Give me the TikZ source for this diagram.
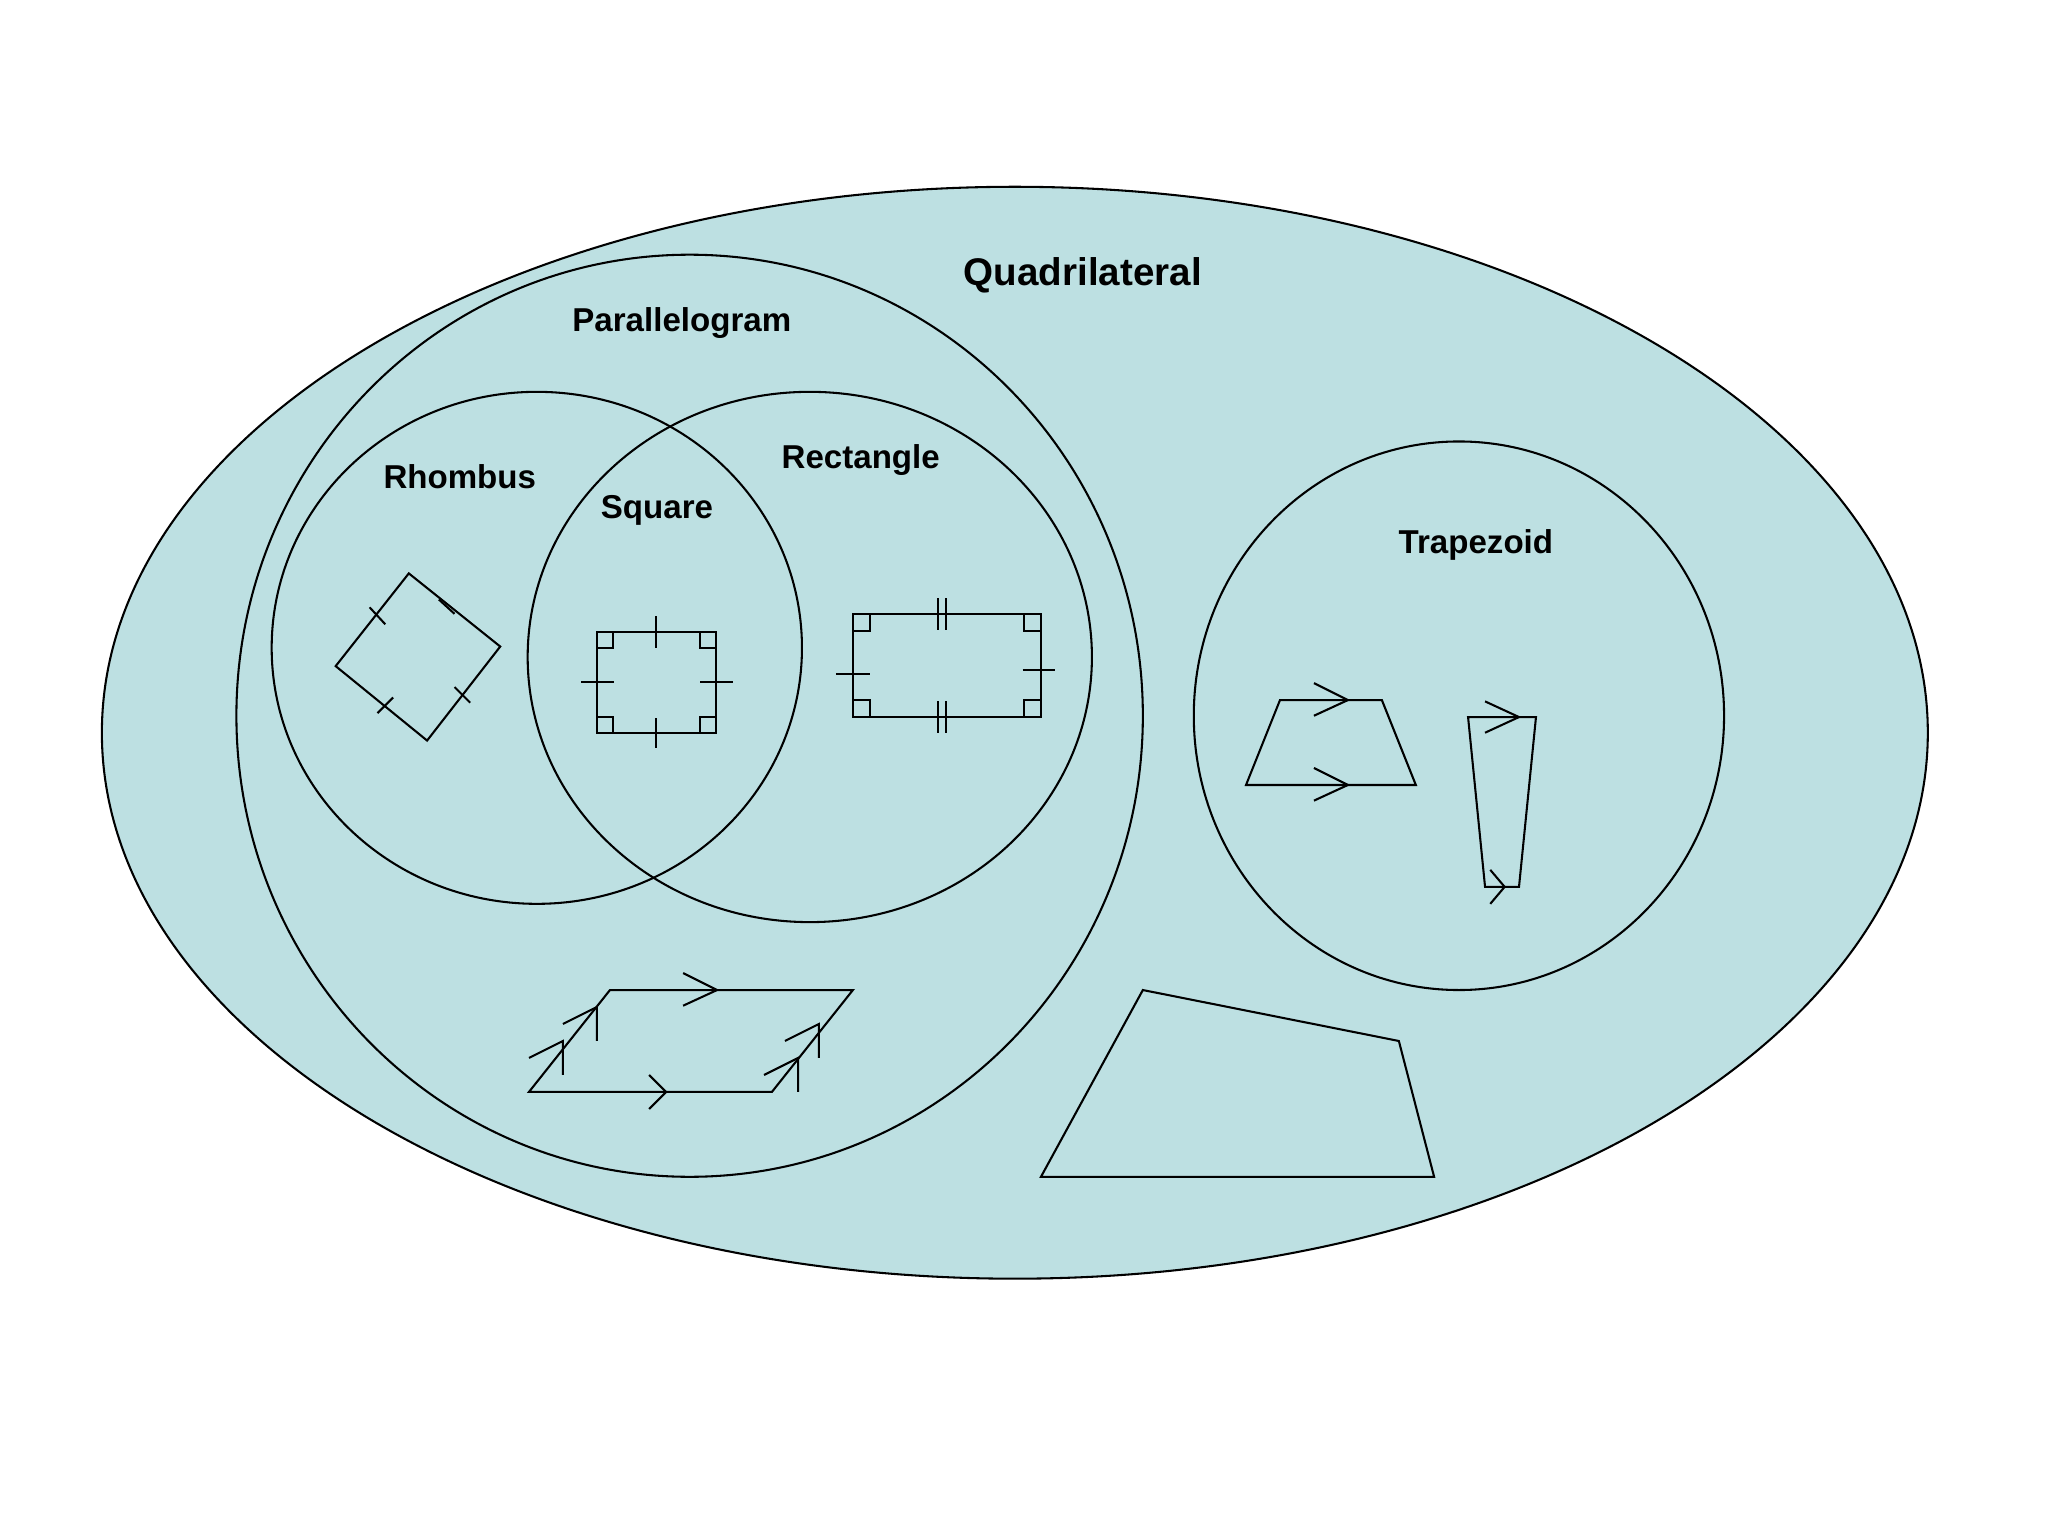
\documentclass[tikz,border=0pt]{standalone}
\usepackage{fontspec}
\setmainfont{Liberation Sans}
\definecolor{teal}{RGB}{189,224,226}
\begin{document}
\begin{tikzpicture}[x=0.01cm,y=-0.01cm,line width=0.45pt,
 lbl/.style={font=\bfseries\fontsize{7.2}{8}\selectfont},
 shp/.style={draw,line join=miter}]
\useasboundingbox (0,0) rectangle (1568,1176);
\fill[white] (0,0) rectangle (1568,1176);
\draw[fill=teal] (777,561) ellipse [x radius=699, y radius=418];
\draw (528,548) ellipse [x radius=347, y radius=353];
\draw (411,496) ellipse [x radius=203, y radius=196];
\draw (620,503) ellipse [x radius=216, y radius=203];
\draw (1117,548) ellipse [x radius=203, y radius=210];
\node[lbl,font=\bfseries\fontsize{8.4}{9}\selectfont] (q) at (829,211) {Quadrilateral};
\node[lbl] (p) at (522,247) {Parallelogram};
\node[lbl] (rh) at (352,365) {Rhombus};
\node[lbl] (sq) at (503,391) {Square};
\node[lbl] (re) at (659,352) {Rectangle};
\node[lbl] (tr) at (1130,417) {Trapezoid};
% rhombus
\draw[shp] (313,439)--(383,495)--(327,567)--(257,510)--cycle;
\draw (283,465)--(295,478) (336,459)--(348,470) (348,526)--(360,538) (289,546)--(301,534);
% square
\draw[shp] (457,484) rectangle (548,561);
\draw (502,472)--(502,496) (502,550)--(502,573) (445,522)--(470,522) (536,522)--(561,522);
\draw (457,496)--(469,496)--(469,484) (536,484)--(536,496)--(548,496) (457,549)--(469,549)--(469,561) (536,561)--(536,549)--(548,549);
% rectangle
\draw[shp] (653,470) rectangle (797,549);
\draw (718,458)--(718,482) (724,458)--(724,482) (718,537)--(718,561) (724,537)--(724,561) (640,516)--(666,516) (783,513)--(808,513);
\draw (653,483)--(666,483)--(666,470) (784,470)--(784,483)--(797,483) (653,536)--(666,536)--(666,549) (784,549)--(784,536)--(797,536);
% trapezoids
\draw[shp] (980,536)--(1058,536)--(1084,601)--(954,601)--cycle;
\draw (1006,523)--(1032,536)--(1006,548) (1006,588)--(1032,601)--(1006,613);
\draw[shp] (1124,549)--(1176,549)--(1163,679)--(1137,679)--cycle;
\draw (1137,537)--(1163,549)--(1137,561) (1141,666)--(1152,679)--(1141,692);
% parallelogram
\draw[shp] (467,758)--(653,758)--(591,836)--(405,836)--cycle;
\draw (523,745)--(549,758)--(523,770) (497,823)--(510,836)--(497,849);
\draw (405,810)--(431,797)--(431,823) (431,784)--(457,771)--(457,797);
\draw (585,823)--(611,810)--(611,836) (601,797)--(627,784)--(627,810);
% quadrilateral
\draw[shp] (875,758)--(1071,797)--(1098,901)--(797,901)--cycle;
\end{tikzpicture}
\end{document}
